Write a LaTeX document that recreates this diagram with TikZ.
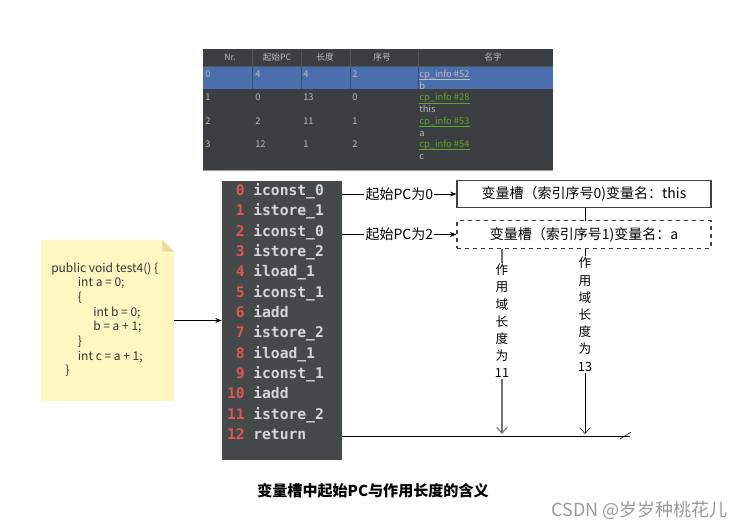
\documentclass[tikz,border=0pt]{standalone}
\usepackage{fontspec}
\setmainfont{Noto Sans CJK SC}
\newfontfamily\codefont{DejaVu Sans Mono}
\usetikzlibrary{arrows.meta,positioning}

\definecolor{tabbg}{HTML}{3C3F41}
\definecolor{tabgrid}{HTML}{55595B}
\definecolor{tabsel}{HTML}{4B6EAF}
\definecolor{tabtext}{HTML}{BBBBBB}
\definecolor{linkgreen}{HTML}{62A32E}
\definecolor{codebg}{HTML}{45494A}
\definecolor{pcred}{HTML}{E05555}
\definecolor{opgray}{HTML}{D4D6D8}
\definecolor{notefill}{HTML}{FFF7C2}
\definecolor{notefold}{HTML}{E9DCA2}
\definecolor{markgray}{HTML}{9A9A9A}

\newcommand\linkul[1]{\setbox0\hbox{#1}\rlap{\rule[-1.6pt]{\wd0}{0.4pt}}\box0}

\begin{document}
\begin{tikzpicture}[
    x=0.75pt, y=-0.75pt,
    head/.style={font=\fontsize{6.5}{7}\selectfont, text=tabtext, inner sep=0pt},
    cell/.style={font=\fontsize{7}{8}\selectfont, text=#1, inner sep=0pt, anchor=mid west},
    codebox/.style={fill=codebg, minimum width=90pt, minimum height=209.25pt, inner sep=0pt},
    pcnum/.style={font=\codefont\bfseries\fontsize{11}{12}\selectfont, text=pcred, inner sep=0pt, anchor=mid east},
    opcode/.style={font=\codefont\bfseries\fontsize{11}{12}\selectfont, text=opgray, inner sep=0pt, anchor=mid west},
    slot/.style={draw=black!75, fill=white, line width=0.8pt, minimum width=190.5pt, minimum height=20.5pt, font=\fontsize{10.5}{12}\selectfont},
    pclabel/.style={fill=white, inner sep=1pt, font=\fontsize{10.5}{12}\selectfont},
    scopelabel/.style={fill=white, inner sep=1pt, align=center, font=\fontsize{9.5}{12.9}\selectfont},
    notebox/.style={fill=notefill, minimum width=99.75pt, minimum height=120.75pt, inner sep=0pt},
    src/.style={inner sep=0pt, align=left, font=\fontsize{9}{11}\selectfont, text=black!80},
    arrow/.style={->, >=Stealth},
    scopearrow/.style={-{Straight Barb[length=4.5pt, width=8pt]}}
]
    \useasboundingbox[fill=white] (0,0) rectangle (754,532);

    % local variable table
    \fill[tabbg] (203,49) rectangle (553,170);
    \fill[tabsel] (203,66) rectangle (553,89);
    \foreach \x in {252, 301, 350, 418} {
        \draw[tabgrid] (\x,49) -- (\x,66);
        \draw[tabsel!70!black] (\x,66) -- (\x,89);
    }
    \draw[tabgrid] (203,66) -- (553,66);
    \draw[markgray] (203,170) -- (553,170);
    \foreach \t/\x [count=\i] in {Nr./230, 起始PC/277, 长度/325, 序号/382, 名字/493} {
        \node[head] (head\i) at (\x,57.5) {\t};
    }
    \foreach \nr/\pc/\len/\idx/\cp/\nm [count=\r from 0] in {0/4/4/2/52/b, 1/0/13/0/28/this, 2/2/11/1/53/a, 3/12/1/2/54/c} {
        \ifnum\r=0 \def\lc{tabtext}\else\def\lc{linkgreen}\fi
        \node[cell=tabtext] (nr\r) at (205, {74+23.3*\r}) {\nr};
        \node[cell=tabtext] (start\r) at (255, {74+23.3*\r}) {\pc};
        \node[cell=tabtext] (len\r) at (303, {74+23.3*\r}) {\len};
        \node[cell=tabtext] (idx\r) at (352, {74+23.3*\r}) {\idx};
        \node[cell=\lc] (cp\r) at (419, {74+23.3*\r}) {\linkul{cp\_info \#\cp}};
        \node[cell=tabtext] (name\r) at (419, {86+23.3*\r}) {\nm};
    }

    % bytecode
    \node[codebox] (code) at (282,320.5) {};
    \foreach \op [count=\i from 0] in {iconst\_0, istore\_1, iconst\_0, istore\_2, iload\_1, iconst\_1, iadd, istore\_2, iload\_1, iconst\_1, iadd, istore\_2, return} {
        \node[pcnum] (pc\i) at (245, {192+20.33*\i}) {\i};
        \node[opcode] (op\i) at (253, {192+20.33*\i}) {\op};
    }

    % source note
    \node[notebox] (note) at (107.5,320.5) {};
    \fill[white] ([shift={(-12,0)}]note.north east) -- (note.north east) -- ([shift={(0,12)}]note.north east) -- cycle;
    \fill[notefold] ([shift={(-12,0)}]note.north east) -- ([shift={(0,12)}]note.north east) -- ([shift={(-12,12)}]note.north east) -- cycle;
    \node[src, anchor=north west] (test) at (51,262) {public void test4() \{\\
        \hspace*{20pt}int a = 0;\\
        \hspace*{20pt}\{\\
        \hspace*{31.5pt}int b = 0;\\
        \hspace*{31.5pt}b = a + 1;\\
        \hspace*{20pt}\}\\
        \hspace*{20pt}int c = a + 1;\\
        \hspace*{10.5pt}\}};
    \draw[arrow] (note) -- (code);

    % slots
    \coordinate (s11) at (502,434);
    \coordinate (s13) at (585,434);
    \coordinate (lineend) at (630,436);
    \node[slot] (slot0) at (584,194) {变量槽（索引序号0)变量名：this};
    \draw[scopearrow] (slot0.south -| s13) -- node[scopelabel, pos=0.47] {作\\用\\域\\长\\度\\为\\13} (s13);
    \node[slot, dashed] (slot1) at (584,234.5) {变量槽（索引序号1)变量名：a};
    \draw[scopearrow, gray!90!black, line width=0.8pt] (slot1.south -| s11) -- node[scopelabel, text=black, pos=0.39] {作\\用\\域\\长\\度\\为\\11} (s11);
    \draw[arrow] (code.east |- slot0) -- node[pclabel] {起始PC为0} (slot0);
    \draw[arrow] (code.east |- slot1) -- node[pclabel] {起始PC为2} (slot1);
    \draw (code.east |- lineend) -- (lineend);
    \draw ([shift={(-10,3)}]lineend) -- ([shift={(1,-4)}]lineend);

    % caption
    \node[font=\bfseries\fontsize{11.3}{13}\selectfont] (caption) at (373,491) {变量槽中起始PC与作用长度的含义};
    \node[anchor=west, text=markgray, font=\fontsize{13.5}{15}\selectfont] (mark) at (547,510) {CSDN @岁岁种桃花儿};
\end{tikzpicture}
\end{document}
